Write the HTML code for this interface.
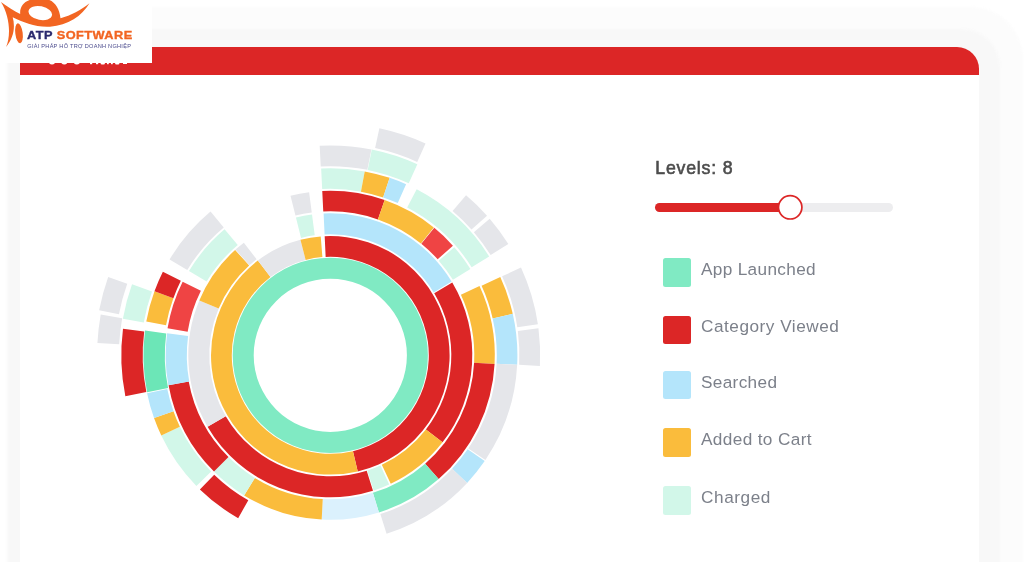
<!DOCTYPE html>
<html><head><meta charset="utf-8"><title>Sunburst</title>
<style>
html,body{margin:0;padding:0;background:#fff}
body{width:1024px;height:576px;position:relative;overflow:hidden;font-family:"Liberation Sans",sans-serif}
.sh1{position:absolute;left:6px;top:6.5px;width:1017px;height:560px;border-radius:30px 52px 0 0;background:#fcfcfc;filter:blur(1.2px)}
.sh2{position:absolute;left:7.5px;top:28.5px;width:992px;height:540px;border-radius:20px 38px 0 0;background:#f8f8f8;filter:blur(1.2px)}
.mask{position:absolute;left:0;top:562px;width:1024px;height:14px;background:#fff}
.card{position:absolute;left:20px;top:47px;width:959px;height:515px;background:#fff;border-radius:0 22px 0 0;overflow:hidden}
.bar{position:absolute;left:0;top:0;width:100%;height:27.5px;background:#dc2626}
.logo{position:absolute;left:0;top:0;width:152px;height:62.5px;background:#fff}
.t1{position:absolute;left:27.2px;top:29.2px;font-size:11.2px;font-weight:bold;color:#2b2a6e;white-space:nowrap;letter-spacing:0.4px;line-height:12px;transform-origin:0 0;transform:scaleX(1.14);-webkit-text-stroke:0.35px #2b2a6e}
.t1 span{color:#f26522;-webkit-text-stroke:0.35px #f26522}
.t2{position:absolute;left:27.3px;top:42.6px;font-size:5.6px;color:#4a4a8c;white-space:nowrap;line-height:7px;letter-spacing:0.26px}
.lv{position:absolute;left:655.3px;top:157px;font-size:17.7px;font-weight:normal;color:#4c4c4c;-webkit-text-stroke:0.6px #4c4c4c;line-height:22px;white-space:nowrap;letter-spacing:0.8px}
.track{position:absolute;left:655px;top:202.7px;width:238px;height:9.8px;border-radius:5px;background:#ededef}
.fill{position:absolute;left:655px;top:202.7px;width:135px;height:9.8px;border-radius:5px;background:#dc2626}
.thumb{position:absolute;left:777.8px;top:194.8px;width:21.4px;height:21.4px;border-radius:50%;background:#fff;border:1.8px solid #dc2626}
.sq{position:absolute;left:662.7px;width:28.6px;height:28.9px;border-radius:2.5px}
.lb{position:absolute;left:701px;font-size:17.2px;color:#7c808a;line-height:26px;white-space:nowrap}
svg{position:absolute;left:0;top:0}
</style></head><body>
<div class="sh1"></div><div class="sh2"></div>
<div class="mask"></div>
<div class="card"><div class="bar"></div><svg width="160" height="30" viewBox="0 0 160 30"><g fill="#fff"><circle cx="32" cy="14" r="3.4"/><circle cx="44.3" cy="14" r="3.4"/><circle cx="56.8" cy="14" r="3.4"/><rect x="70" y="14" width="2.2" height="3.2"/><rect x="76" y="14" width="2.2" height="3.2"/><rect x="80.5" y="14" width="4.5" height="3.4" rx="1.5"/><rect x="87" y="14" width="1.8" height="3.2"/><rect x="91" y="14" width="1.8" height="3.2"/><rect x="95" y="14" width="4.5" height="3.4" rx="1.5"/><rect x="103" y="14" width="4" height="3"/></g></svg></div>
<svg width="1024" height="576" viewBox="0 0 1024 576">
<path fill-rule="evenodd" fill="#80eac3" d="M232.70,355.3a97.60,97.60 0 1,0 195.20,0a97.60,97.60 0 1,0 -195.20,0ZM253.70,355.3a76.60,76.60 0 1,0 153.20,0a76.60,76.60 0 1,0 -153.20,0Z"/>
<path fill="#dc2626" d="M324.68,236.13A119.30,119.30 0 0,1 357.74,471.40L352.96,451.16A98.50,98.50 0 0,0 325.66,256.91Z"/>
<path fill="#fabc3c" d="M357.74,471.40A119.30,119.30 0 0,1 257.84,260.53L270.47,277.05A98.50,98.50 0 0,0 352.96,451.16Z"/>
<path fill="#e5e6ea" d="M257.84,260.53A119.30,119.30 0 0,1 300.43,239.80L305.64,259.94A98.50,98.50 0 0,0 270.47,277.05Z"/>
<path fill="#fabc3c" d="M300.43,239.80A119.30,119.30 0 0,1 320.73,236.38L322.40,257.12A98.50,98.50 0 0,0 305.64,259.94Z"/>
<path fill="#b4e5fb" d="M323.61,213.46A142.00,142.00 0 0,1 451.63,281.53L433.69,292.44A121.00,121.00 0 0,0 324.60,234.43Z"/>
<path fill="#dc2626" d="M452.27,282.59A142.00,142.00 0 0,1 442.50,442.33L425.91,429.46A121.00,121.00 0 0,0 434.23,293.34Z"/>
<path fill="#fabc3c" d="M442.50,442.33A142.00,142.00 0 0,1 390.76,483.79L381.82,464.78A121.00,121.00 0 0,0 425.91,429.46Z"/>
<path fill="#d2f7e9" d="M389.19,484.51A142.00,142.00 0 0,1 373.71,490.50L367.29,470.51A121.00,121.00 0 0,0 380.48,465.41Z"/>
<path fill="#dc2626" d="M373.00,490.73A142.00,142.00 0 0,1 207.57,426.73L225.72,416.17A121.00,121.00 0 0,0 366.69,470.70Z"/>
<path fill="#e5e6ea" d="M207.57,426.73A142.00,142.00 0 0,1 199.30,300.50L218.67,308.61A121.00,121.00 0 0,0 225.72,416.17Z"/>
<path fill="#fabc3c" d="M199.30,300.50A142.00,142.00 0 0,1 235.10,249.94L249.18,265.52A121.00,121.00 0 0,0 218.67,308.61Z"/>
<path fill="#e5e6ea" d="M235.47,249.61A142.00,142.00 0 0,1 243.86,242.64L256.64,259.30A121.00,121.00 0 0,0 249.49,265.24Z"/>
<path fill="#d2f7e9" d="M295.95,217.52A142.00,142.00 0 0,1 312.01,214.48L314.72,235.31A121.00,121.00 0 0,0 301.03,237.89Z"/>
<path fill="#dc2626" d="M322.26,191.00A164.50,164.50 0 0,1 384.67,200.04L377.89,219.39A144.00,144.00 0 0,0 323.27,211.47Z"/>
<path fill="#fabc3c" d="M384.67,200.04A164.50,164.50 0 0,1 433.82,227.46L420.92,243.39A144.00,144.00 0 0,0 377.89,219.39Z"/>
<path fill="#ef4444" d="M434.27,227.82A164.50,164.50 0 0,1 452.93,245.66L437.65,259.32A144.00,144.00 0 0,0 421.31,243.71Z"/>
<path fill="#d2f7e9" d="M454.26,247.16A164.50,164.50 0 0,1 470.41,269.10L452.95,279.85A144.00,144.00 0 0,0 438.81,260.64Z"/>
<path fill="#fabc3c" d="M479.51,286.04A164.50,164.50 0 0,1 494.57,363.91L474.10,362.84A144.00,144.00 0 0,0 460.91,294.67Z"/>
<path fill="#dc2626" d="M494.57,363.91A164.50,164.50 0 0,1 438.65,479.07L425.15,463.65A144.00,144.00 0 0,0 474.10,362.84Z"/>
<path fill="#80eac3" d="M438.65,479.07A164.50,164.50 0 0,1 378.94,512.44L372.88,492.86A144.00,144.00 0 0,0 425.15,463.65Z"/>
<path fill="#dbf1fd" d="M378.94,512.44A164.50,164.50 0 0,1 321.69,519.57L322.76,499.10A144.00,144.00 0 0,0 372.88,492.86Z"/>
<path fill="#fabc3c" d="M321.69,519.57A164.50,164.50 0 0,1 244.10,495.41L254.85,477.95A144.00,144.00 0 0,0 322.76,499.10Z"/>
<path fill="#d2f7e9" d="M244.10,495.41A164.50,164.50 0 0,1 213.98,471.62L228.48,457.12A144.00,144.00 0 0,0 254.85,477.95Z"/>
<path fill="#dc2626" d="M213.98,471.62A164.50,164.50 0 0,1 168.55,385.28L188.71,381.54A144.00,144.00 0 0,0 228.48,457.12Z"/>
<path fill="#b4e5fb" d="M168.36,385.31A164.70,164.70 0 0,1 167.09,333.23L188.09,336.07A143.50,143.50 0 0,0 189.20,381.45Z"/>
<path fill="#ef4444" d="M167.52,328.35A165.00,165.00 0 0,1 182.64,281.68L200.89,290.78A144.60,144.60 0 0,0 187.64,331.68Z"/>
<path fill="#d2f7e9" d="M189.00,271.07A164.50,164.50 0 0,1 224.56,229.29L237.74,244.99A144.00,144.00 0 0,0 206.61,281.57Z"/>
<path fill="#e5e6ea" d="M290.50,195.69A164.50,164.50 0 0,1 309.11,192.17L311.75,212.50A144.00,144.00 0 0,0 295.46,215.58Z"/>
<path fill="#d2f7e9" d="M321.16,168.42A187.10,187.10 0 0,1 364.72,171.39L360.93,191.64A166.50,166.50 0 0,0 322.17,189.00Z"/>
<path fill="#fabc3c" d="M364.72,171.39A187.10,187.10 0 0,1 389.67,177.87L383.13,197.40A166.50,166.50 0 0,0 360.93,191.64Z"/>
<path fill="#b4e5fb" d="M389.67,177.87A187.10,187.10 0 0,1 406.10,184.24L397.76,203.08A166.50,166.50 0 0,0 383.13,197.40Z"/>
<path fill="#d2f7e9" d="M416.69,189.34A187.10,187.10 0 0,1 489.14,256.43L471.65,267.32A166.50,166.50 0 0,0 407.18,207.61Z"/>
<path fill="#fabc3c" d="M500.28,277.12A187.10,187.10 0 0,1 512.75,313.85L492.66,318.41A166.50,166.50 0 0,0 481.57,285.73Z"/>
<path fill="#b4e5fb" d="M512.75,313.85A187.10,187.10 0 0,1 517.16,364.77L496.59,363.72A166.50,166.50 0 0,0 492.66,318.41Z"/>
<path fill="#e5e6ea" d="M517.16,364.77A187.10,187.10 0 0,1 485.41,459.92L468.33,448.41A166.50,166.50 0 0,0 496.59,363.72Z"/>
<path fill="#b4e5fb" d="M484.68,461.01A187.10,187.10 0 0,1 467.14,482.90L452.07,468.85A166.50,166.50 0 0,0 467.68,449.37Z"/>
<path fill="#e5e6ea" d="M467.14,482.90A187.10,187.10 0 0,1 386.56,533.74L380.37,514.09A166.50,166.50 0 0,0 452.07,468.85Z"/>
<path fill="#dc2626" d="M238.17,518.14A187.10,187.10 0 0,1 199.86,489.43L214.22,474.67A166.50,166.50 0 0,0 248.31,500.21Z"/>
<path fill="#d2f7e9" d="M196.39,485.97A187.10,187.10 0 0,1 161.29,435.55L179.89,426.72A166.50,166.50 0 0,0 211.14,471.59Z"/>
<path fill="#fabc3c" d="M161.29,435.55A187.10,187.10 0 0,1 154.04,418.06L173.45,411.15A166.50,166.50 0 0,0 179.89,426.72Z"/>
<path fill="#b4e5fb" d="M154.04,418.06A187.10,187.10 0 0,1 147.09,393.24L167.26,389.06A166.50,166.50 0 0,0 173.45,411.15Z"/>
<path fill="#6ce6b7" d="M147.09,392.24A186.90,186.90 0 0,1 145.04,330.58L166.25,333.41A165.50,165.50 0 0,0 168.07,388.01Z"/>
<path fill="#fabc3c" d="M146.27,321.52A187.10,187.10 0 0,1 154.48,291.31L173.37,298.18A167.00,167.00 0 0,0 166.04,325.15Z"/>
<path fill="#dc2626" d="M154.48,291.31A187.10,187.10 0 0,1 162.86,271.82L180.85,280.78A167.00,167.00 0 0,0 173.37,298.18Z"/>
<path fill="#e5e6ea" d="M169.59,259.50A187.10,187.10 0 0,1 210.54,211.55L223.72,227.38A166.50,166.50 0 0,0 187.28,270.04Z"/>
<path fill="#e5e6ea" d="M319.68,145.67A209.90,209.90 0 0,1 371.43,149.47L367.35,169.87A189.10,189.10 0 0,0 320.73,166.44Z"/>
<path fill="#d2f7e9" d="M371.79,149.54A209.90,209.90 0 0,1 417.34,164.30L408.72,183.23A189.10,189.10 0 0,0 367.68,169.93Z"/>
<path fill="#e5e6ea" d="M466.06,195.22A209.90,209.90 0 0,1 487.02,215.67L471.49,229.50A189.10,189.10 0 0,0 452.61,211.08Z"/>
<path fill="#e5e6ea" d="M489.67,218.70A209.90,209.90 0 0,1 508.31,244.07L490.67,255.09A189.10,189.10 0 0,0 473.88,232.24Z"/>
<path fill="#e5e6ea" d="M521.00,267.59A209.90,209.90 0 0,1 537.89,324.27L517.32,327.35A189.10,189.10 0 0,0 502.10,276.28Z"/>
<path fill="#e5e6ea" d="M538.45,328.27A209.90,209.90 0 0,1 539.93,365.92L519.16,364.87A189.10,189.10 0 0,0 517.83,330.94Z"/>
<path fill="#dc2626" d="M125.35,396.25A209.00,209.00 0 0,1 122.99,328.74L144.22,331.46A187.60,187.60 0 0,0 146.34,392.06Z"/>
<path fill="#d2f7e9" d="M122.90,318.73A210.60,210.60 0 0,1 132.03,284.31L151.99,291.45A189.40,189.40 0 0,0 143.78,322.41Z"/>
<path fill="#e5e6ea" d="M379.39,128.25A232.30,232.30 0 0,1 425.53,143.41L417.20,161.93A212.00,212.00 0 0,0 375.10,148.09Z"/>
<path fill="#e5e6ea" d="M97.42,343.10A233.20,233.20 0 0,1 100.71,314.40L122.18,318.23A211.40,211.40 0 0,0 119.19,344.24Z"/>
<path fill="#e5e6ea" d="M99.13,310.36A235.50,235.50 0 0,1 108.17,277.08L127.22,283.79A215.30,215.30 0 0,0 118.96,314.22Z"/>
</svg>
<div class="lv">Levels: 8</div>
<div class="track"></div><div class="fill"></div><svg width="1024" height="576" viewBox="0 0 1024 576"><circle cx="790.2" cy="207.3" r="11.7" fill="#fff" stroke="#dc2626" stroke-width="1.7"/></svg>
<div class="sq" style="top:257.7px;background:#80eac3"></div><div class="lb" style="top:255.79999999999998px;letter-spacing:0.34px">App Launched</div>
<div class="sq" style="top:315.6px;background:#dc2626"></div><div class="lb" style="top:312.90000000000003px;letter-spacing:0.52px">Category Viewed</div>
<div class="sq" style="top:370.6px;background:#b4e5fb"></div><div class="lb" style="top:368.70000000000005px;letter-spacing:0.34px">Searched</div>
<div class="sq" style="top:427.9px;background:#fabc3c"></div><div class="lb" style="top:426.0px;letter-spacing:0.375px">Added to Cart</div>
<div class="sq" style="top:485.8px;background:#d2f7e9"></div><div class="lb" style="top:483.90000000000003px;letter-spacing:0.58px">Charged</div>
<div class="logo">
<svg width="152" height="63" viewBox="0 0 152 63">
<g fill="#f26522">
<path fill-rule="evenodd" d="M0.9,1.9C7,6.5 14,10.5 20.2,14.1C19.5,7 24,0.5 33,-0.8L46,-0.8C54,0 59.5,8 60.5,18.3C71,15.5 81,10 89.5,3.3C82,16 68,25.5 50,26.7C36,27.5 23,22.5 12.7,17.3C15.5,27 13.5,38 6.1,46.9C11,36 10,16 0.9,1.9Z M28.62,10.83A11.9,6.75 11 1,0 51.98,15.37A11.9,6.75 11 1,0 28.62,10.83Z"/>
<ellipse cx="19" cy="33.3" rx="3.7" ry="10.1" transform="rotate(-7 19 33.3)"/>
</g>
</svg>
<div class="t1">ATP <span>SOFTWARE</span></div>
<div class="t2">GIẢI PHÁP HỖ TRỢ DOANH NGHIỆP</div>
</div>
</body></html>
